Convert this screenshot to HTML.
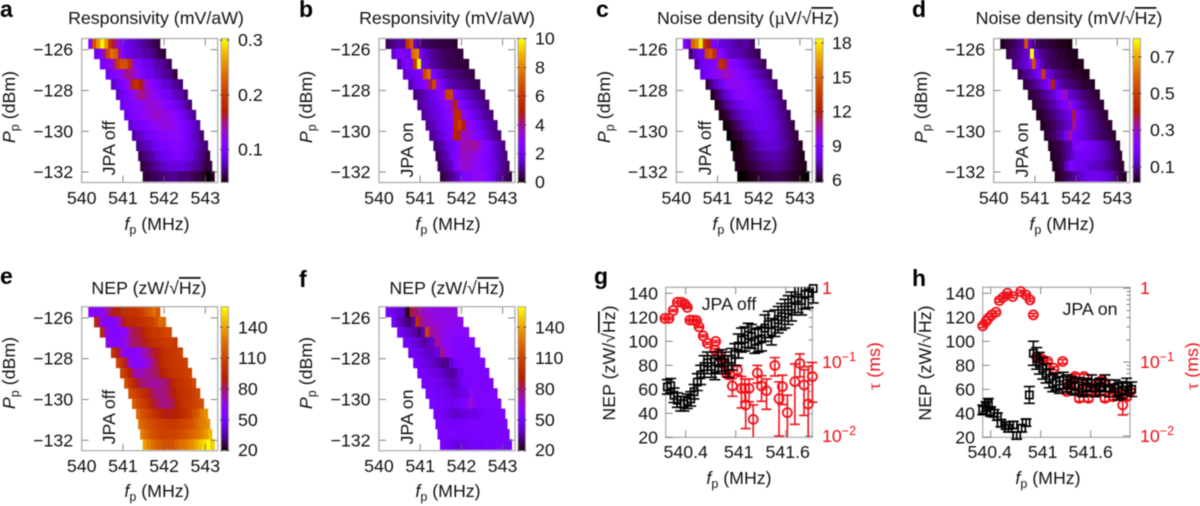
<!DOCTYPE html>
<html lang="en">
<head>
<meta charset="utf-8">
<title>Responsivity, noise density and NEP maps</title>
<style>
html,body{margin:0;padding:0;background:#fff;width:1200px;height:506px;overflow:hidden}
svg{display:block;font-family:"Liberation Sans",sans-serif;font-size:17.8px;fill:#111;filter:blur(.45px)}
.l{font-weight:bold;font-size:23px;fill:#000}
.m{text-anchor:middle}
.serif{font-family:"Liberation Serif",serif}
.red{fill:#f01018}
</style>
</head>
<body>
<svg id="chart" xmlns="http://www.w3.org/2000/svg" width="1200" height="506" viewBox="0 0 1200 506">
<g id="plots"></g>

<text class="l" x="0" y="17">a</text>
<text class="l" x="299" y="17">b</text>
<text class="l" x="596" y="17">c</text>
<text class="l" x="912" y="17">d</text>
<text class="l" x="0" y="284">e</text>
<text class="l" x="299" y="287">f</text>
<text class="l" x="594" y="284">g</text>
<text class="l" x="912" y="286">h</text>

<text class="m" x="156" y="24">Responsivity (mV/aW)</text>
<text class="m" x="447" y="24">Responsivity (mV/aW)</text>
<text class="m" x="748" y="24">Noise density (<tspan class="serif">µ</tspan>V/√<tspan text-decoration="overline">Hz</tspan>)</text>
<text class="m" x="1069" y="24">Noise density (mV/√<tspan text-decoration="overline">Hz</tspan>)</text>
<text class="m" x="149" y="294">NEP (zW/√<tspan text-decoration="overline">Hz</tspan>)</text>
<text class="m" x="447" y="294">NEP (zW/√<tspan text-decoration="overline">Hz</tspan>)</text>

<text class="m" x="157" y="230"><tspan font-style="italic">f</tspan><tspan dy="4" font-size="12.5">p</tspan><tspan dy="-4">&#160;(MHz)</tspan></text>
<text class="m" x="448" y="230"><tspan font-style="italic">f</tspan><tspan dy="4" font-size="12.5">p</tspan><tspan dy="-4">&#160;(MHz)</tspan></text>
<text class="m" x="745" y="230"><tspan font-style="italic">f</tspan><tspan dy="4" font-size="12.5">p</tspan><tspan dy="-4">&#160;(MHz)</tspan></text>
<text class="m" x="1062" y="230"><tspan font-style="italic">f</tspan><tspan dy="4" font-size="12.5">p</tspan><tspan dy="-4">&#160;(MHz)</tspan></text>
<text class="m" x="157" y="497"><tspan font-style="italic">f</tspan><tspan dy="4" font-size="12.5">p</tspan><tspan dy="-4">&#160;(MHz)</tspan></text>
<text class="m" x="448" y="497"><tspan font-style="italic">f</tspan><tspan dy="4" font-size="12.5">p</tspan><tspan dy="-4">&#160;(MHz)</tspan></text>
<text class="m" x="739" y="484"><tspan font-style="italic">f</tspan><tspan dy="4" font-size="12.5">p</tspan><tspan dy="-4">&#160;(MHz)</tspan></text>
<text class="m" x="1048" y="484"><tspan font-style="italic">f</tspan><tspan dy="4" font-size="12.5">p</tspan><tspan dy="-4">&#160;(MHz)</tspan></text>

<text class="m" transform="translate(15,107) rotate(-90)"><tspan font-style="italic">P</tspan><tspan dy="4" font-size="12.5">p</tspan><tspan dy="-4">&#160;(dBm)</tspan></text>
<text class="m" transform="translate(312,107) rotate(-90)"><tspan font-style="italic">P</tspan><tspan dy="4" font-size="12.5">p</tspan><tspan dy="-4">&#160;(dBm)</tspan></text>
<text class="m" transform="translate(610,107) rotate(-90)"><tspan font-style="italic">P</tspan><tspan dy="4" font-size="12.5">p</tspan><tspan dy="-4">&#160;(dBm)</tspan></text>
<text class="m" transform="translate(927,107) rotate(-90)"><tspan font-style="italic">P</tspan><tspan dy="4" font-size="12.5">p</tspan><tspan dy="-4">&#160;(dBm)</tspan></text>
<text class="m" transform="translate(15,373) rotate(-90)"><tspan font-style="italic">P</tspan><tspan dy="4" font-size="12.5">p</tspan><tspan dy="-4">&#160;(dBm)</tspan></text>
<text class="m" transform="translate(312,373) rotate(-90)"><tspan font-style="italic">P</tspan><tspan dy="4" font-size="12.5">p</tspan><tspan dy="-4">&#160;(dBm)</tspan></text>

<text class="m" transform="translate(115,148) rotate(-90)">JPA off</text>
<text class="m" transform="translate(413,150) rotate(-90)">JPA on</text>
<text class="m" transform="translate(711,148) rotate(-90)">JPA off</text>
<text class="m" transform="translate(1028,150) rotate(-90)">JPA on</text>
<text class="m" transform="translate(115,417) rotate(-90)">JPA off</text>
<text class="m" transform="translate(413,417) rotate(-90)">JPA on</text>
<text class="m" x="729" y="310">JPA off</text>
<text class="m" x="1090" y="315">JPA on</text>

<text class="m" transform="translate(615,363) rotate(-90)">NEP (zW/√<tspan text-decoration="overline">Hz</tspan>)</text>
<text class="m" transform="translate(931,363) rotate(-90)">NEP (zW/√<tspan text-decoration="overline">Hz</tspan>)</text>
<text class="m red" transform="translate(880,366) rotate(-90)"><tspan class="serif">τ</tspan> (ms)</text>
<text class="m red" transform="translate(1198,366) rotate(-90)"><tspan class="serif">τ</tspan> (ms)</text>
</svg>

<script>
/* ---------- shared heatmap axes ---------- */
const rowPower = [-125.7,-126.2,-126.7,-127.2,-127.7,-128.2,-128.7,-129.2,-129.7,-130.2,-130.7,-131.2,-131.7,-132.2];
const rowStartMHz = [540.16,540.30,540.44,540.58,540.71,540.83,540.93,541.03,541.13,541.22,541.32,541.37,541.42,541.48];
const xTickValues = [540,541,542,543];
const yTickValues = [-126,-128,-130,-132];

/* ---------- a: responsivity, JPA off ---------- */
const heatA = [
[.11,.22,.26,.30,.26,.19,.16,.13,.10,.09,.085,.08,.075,.07,.065,.06,.055,.05],
[.09,.10,.14,.21,.24,.23,.14,.10,.09,.085,.08,.08,.07,.07,.065,.06,.05,.05],
[.10,.10,.12,.14,.20,.22,.22,.19,.13,.11,.10,.09,.085,.08,.07,.07,.06,.055],
[.09,.10,.11,.12,.13,.15,.14,.13,.115,.10,.09,.09,.08,.075,.07,.065,.06,.05],
[.08,.09,.10,.11,.13,.18,.19,.17,.14,.12,.11,.10,.09,.08,.08,.07,.065,.06],
[.08,.09,.10,.11,.12,.14,.15,.14,.13,.12,.11,.10,.095,.09,.08,.075,.07,.06],
[.09,.10,.105,.11,.115,.12,.125,.13,.13,.125,.12,.11,.105,.095,.09,.08,.07,.06],
[.09,.10,.105,.11,.115,.12,.125,.13,.135,.13,.125,.12,.115,.105,.095,.085,.075,.065],
[.08,.09,.095,.10,.105,.11,.115,.12,.125,.125,.125,.12,.115,.11,.10,.09,.08,.07],
[.07,.075,.08,.09,.095,.10,.105,.11,.11,.115,.115,.115,.11,.10,.09,.08,.07,.06],
[.065,.07,.075,.08,.09,.095,.10,.10,.105,.11,.11,.105,.10,.09,.085,.075,.065,.06],
[.055,.06,.065,.07,.08,.085,.09,.095,.095,.10,.10,.095,.09,.085,.075,.065,.06,.05],
[.05,.055,.06,.065,.07,.075,.08,.085,.085,.085,.085,.08,.075,.07,.065,.06,.05,.05],
[.05,.05,.055,.055,.06,.06,.065,.065,.065,.06,.06,.06,.055,.05,.05,.045,.04,.045]];
const barTicksA = ['0.1','0.2','0.3'];

/* ---------- b: responsivity, JPA on ---------- */
const heatB = [
[.6,.8,1,1.2,1,6,7,1.5,1,.7,.6,.5,.5,.4,.4,.4,.4,.3],
[1.5,2.3,2.6,2.2,2,7.5,8,2,1.5,1.2,1,.8,.7,.6,.5,.5,.4,.4],
[1.2,2,2.5,2.2,6,10,2,1.5,1.2,1,.8,.7,.6,.5,.5,.4,.4,.3],
[1.5,1.8,2,2.2,2.5,6.5,7.5,2.5,2,1.5,1.2,1,.9,.8,.7,.6,.5,.4],
[1.2,1.6,2,2.5,3,4.5,6.5,3,2.2,1.6,1.3,1.1,1,.9,.8,.7,.6,.5],
[.8,1,1.2,1.5,1.8,2,2.5,3,6.3,6.5,2.5,2,1.6,1.4,1.2,1,.9,.7],
[1,1.2,1.4,1.6,1.8,2,2.4,3,3.5,5.2,3,2.4,2,1.6,1.4,1.2,1,.8],
[1,1.3,1.5,1.7,1.9,2.2,2.6,3,5.5,5.5,3.2,2.6,2.2,1.8,1.5,1.2,1,.8],
[1,1.2,1.5,1.8,2,2.3,2.6,5.5,6.2,5,3.2,2.8,2.4,2,1.6,1.3,1.1,.9],
[1,1.2,1.5,1.8,2.2,2.6,5.2,4.8,3.5,3.6,3.2,2.8,2.4,2,1.6,1.3,1,.8],
[.8,1,1.3,1.7,2,2.3,2.8,4,3.7,3.9,4,3.4,3,2.5,2,1.5,1.2,.9],
[.6,.9,1.2,1.6,2.2,2.6,3.5,3.7,3.4,3.3,3,2.8,2.5,2.2,1.8,1.4,1.1,.8],
[.6,.8,1.1,1.4,2.4,3.2,3.4,3.6,3.2,3,2.8,2.6,2.3,2,1.7,1.3,1,.7],
[.4,.6,.8,1.2,1.5,2.2,2.6,2.8,3,3,3,2.6,2.2,1.8,1.3,1,.7,.4]];
const barTicksB = ['0','2','4','6','8','10'];

/* ---------- c: noise density, JPA off ---------- */
const heatC = [
[9,8,15,16,18.2,13,12,9,8.5,8,7.8,7.6,7.4,7.2,7,7.2,7,6.6],
[6.8,7.5,8,8.3,14,14.5,13,9.5,9,8,7.6,7.4,7.4,7.2,7,6.8,6.6,6.4],
[7.2,8,8.4,8.6,9,9.5,13,12.5,9.8,9.3,8.8,8.4,8,7.6,7.3,7,6.8,6.5],
[8,8.5,8.8,9,9.5,10,10.5,10,9.5,9.3,9,8.6,8.2,7.8,7.5,7.2,7,6.6],
[6.3,7,7.5,8,8.5,9.5,9.5,9.6,9.6,9.4,9,8.7,8.3,8,7.6,7.3,7,6.7],
[6,6.5,7,7.6,8,8.6,9.2,9.5,9.4,9.2,9,8.7,8.4,8,7.7,7.4,7,6.7],
[6,6.3,6.8,7.2,7.6,8,8.3,8.6,8.8,8.8,8.7,8.5,8.2,8,7.7,7.4,7,6.6],
[6,6.2,6.5,7,7.3,7.6,7.9,8.1,8.3,8.4,8.4,8.3,8.1,7.8,7.5,7.2,6.9,6.5],
[5.9,6,6.3,6.6,7,7.4,7.7,8,8.3,8.4,8.4,8.2,8,7.7,7.4,7,6.7,6.4],
[5.8,6,6.2,6.4,6.8,7.1,7.4,7.6,7.9,8,8,7.9,7.7,7.4,7.1,6.8,6.5,6.3],
[5.8,5.9,6,6.3,6.6,6.9,7.2,7.5,7.7,7.8,7.8,7.7,7.5,7.2,6.9,6.6,6.3,6.1],
[6,6,6.1,6.3,6.5,6.7,6.9,7.1,7.2,7.3,7.3,7.2,7,6.8,6.6,6.4,6.2,6],
[6,6,6,6.2,6.3,6.5,6.7,6.8,6.9,7,7,6.9,6.8,6.6,6.4,6.2,6.1,6],
[5.8,5.8,5.9,6,6.1,6.2,6.3,6.4,6.4,6.5,6.5,6.4,6.3,6.2,6.1,6,5.9,5.8]];
const barTicksC = ['6','9','12','15','18'];

/* ---------- d: noise density, JPA on ---------- */
const heatD = [
[.03,.04,.05,.06,.08,.10,.55,.14,.08,.06,.05,.05,.04,.04,.03,.03,.03,.02],
[.05,.07,.08,.10,.12,.15,.80,.15,.10,.08,.07,.06,.05,.04,.04,.03,.03,.03],
[.08,.10,.12,.14,.20,.55,.20,.12,.08,.07,.06,.05,.05,.04,.04,.03,.03,.03],
[.05,.08,.10,.12,.15,.20,.50,.18,.12,.10,.08,.07,.06,.05,.04,.04,.03,.03],
[.05,.06,.08,.10,.13,.16,.22,.42,.15,.11,.09,.08,.07,.06,.05,.04,.04,.03],
[.04,.05,.06,.08,.10,.12,.14,.20,.24,.30,.14,.12,.10,.08,.07,.06,.05,.04],
[.04,.05,.06,.07,.09,.11,.14,.18,.20,.28,.18,.14,.11,.09,.07,.06,.05,.04],
[.03,.04,.05,.07,.08,.10,.12,.14,.17,.38,.20,.15,.12,.10,.08,.07,.05,.04],
[.03,.04,.05,.06,.08,.10,.12,.14,.34,.18,.15,.13,.11,.09,.08,.06,.05,.04],
[.04,.05,.07,.09,.12,.18,.32,.20,.16,.15,.13,.11,.09,.08,.07,.06,.05,.04],
[.03,.04,.05,.07,.09,.11,.20,.22,.22,.20,.18,.17,.15,.13,.11,.08,.06,.04],
[.03,.04,.05,.07,.10,.13,.17,.18,.18,.17,.16,.15,.14,.12,.10,.08,.06,.04],
[.03,.04,.06,.12,.20,.19,.17,.16,.15,.14,.13,.12,.11,.09,.08,.06,.05,.04],
[.03,.04,.05,.07,.09,.11,.13,.15,.16,.17,.17,.16,.15,.13,.11,.08,.05,.03]];
const barTicksD = ['0.1','0.3','0.5','0.7'];

/* ---------- e: NEP, JPA off ---------- */
const heatE = [
[60,58,58,62,70,82,88,92,96,100,100,102,104,108,114,120,126,118],
[95,75,55,55,58,60,72,88,96,96,96,100,102,104,108,114,124,124],
[96,70,60,55,55,60,62,75,84,84,88,96,100,104,104,108,112,112],
[65,58,58,60,62,70,80,80,84,86,92,96,100,102,104,106,108,106],
[102,92,72,60,58,58,60,65,72,78,84,88,94,100,102,104,106,108],
[110,102,85,68,60,58,60,65,72,80,86,96,100,102,104,104,106,108],
[110,102,92,75,72,72,75,78,80,84,90,96,100,102,104,106,108,110],
[114,104,96,85,80,78,75,75,75,78,80,86,96,100,102,104,106,112],
[114,110,106,100,96,86,80,78,78,80,84,90,96,100,102,104,108,112],
[120,112,108,104,96,86,82,78,78,80,84,92,100,104,106,108,112,116],
[124,116,112,108,102,96,92,88,88,90,92,96,100,106,114,120,130,136],
[126,120,116,114,110,108,106,104,104,106,108,110,112,116,122,128,132,136],
[130,124,118,114,111,108,108,110,110,112,114,116,120,124,128,132,138,145],
[140,132,126,121,118,116,114,116,120,125,128,132,136,142,148,154,160,150]];
const barTicksE = ['20','50','80','110','140'];

/* ---------- f: NEP, JPA on ---------- */
const heatF = [
[50,48,45,42,40,22,85,80,75,70,68,66,65,65,65,65,65,65],
[50,42,38,33,30,35,100,78,72,70,68,66,65,65,64,64,63,62],
[50,46,42,38,36,30,38,110,75,72,68,65,62,62,60,60,60,60],
[50,48,45,42,38,35,40,42,78,68,62,60,58,56,56,55,55,55],
[48,48,46,44,42,40,42,44,78,65,60,58,56,56,55,54,54,54],
[50,48,46,44,42,38,36,32,33,42,50,54,55,55,54,54,54,53],
[50,50,48,46,45,42,40,36,35,36,44,50,54,54,54,53,53,53],
[50,50,50,48,47,44,42,38,40,45,50,52,53,54,54,53,53,53],
[52,50,50,48,48,46,44,42,44,46,48,62,52,53,54,54,54,54],
[52,52,50,50,48,46,48,50,52,55,70,55,54,54,54,54,54,54],
[50,50,48,46,42,40,42,44,44,46,44,48,50,52,52,54,54,54],
[52,52,50,50,50,50,50,50,52,52,52,52,52,52,52,52,52,52],
[52,52,52,52,52,50,50,52,52,52,52,52,52,52,52,52,52,52],
[52,50,48,44,44,46,46,48,50,50,48,50,50,50,52,52,50,50]];
const barTicksF = ['20','50','80','110','140'];

/* ---------- g: NEP and tau traces, JPA off ---------- */
const gNepFreq = [540.18,540.22,540.26,540.30,540.34,540.38,540.42,540.46,540.50,540.54,540.58,540.62,540.66,540.71,540.75,540.79,540.83,540.87,540.91,540.95,540.99,541.03,541.07,541.11,541.15,541.19,541.23,541.27,541.31,541.35,541.39,541.43,541.47,541.51,541.55,541.59,541.63,541.67,541.71,541.75,541.79,541.83,541.87,541.93];
const gNep = [62,63,55,51,48,48,50,52,58,66,72,79,82,79,77,82,84,82,79,85,89,96,101,102,105,104,100,101,102,111,114,108,115,118,120.5,123,126,129,134,136,134,139,140,144];
const gNepErr = [6,6,6,6,6,6,6,6,6,7,8,9,9,9,9,9,9,9,9,9,9,10,10,10,10,10,10,10,10,11,11,11,11,11,11,12,12,12,12,12,12,12,12,12];
const gTauFreq = [540.15,540.20,540.25,540.30,540.35,540.39,540.42,540.45,540.49,540.53,540.56,540.61,540.66,540.76,540.75,540.80,540.85,540.89,540.93,540.96,541.02,541.07,541.12,541.11,541.16,541.21,541.26,541.31,541.37,541.47,541.52,541.56,541.62,541.71,541.77,541.82,541.87,541.92];
const gTau = [.39,.39,.50,.646,.646,.61,.55,.37,.37,.365,.30,.226,.18,.19,.146,.119,.096,.071,.067,.0475,.078,.044,.0263,.044,.044,.0168,.071,.0475,.041,.09,.032,.0466,.0207,.0544,.096,.049,.0271,.0637];
const gTauErr = [.012,.012,.015,.02,.02,.018,.015,.01,.01,.01,.008,.007,.006,.006,.006,.005,.006,.007,.008,.013,.012,.02,.0137,.015,.015,.0095,.019,.018,.018,.025,.022,.02,.015,.04,.033,.03,.06,.035];

/* ---------- h: NEP and tau traces, JPA on ---------- */
const hNepFreq = [540.304,540.344,540.372,540.40,540.44,540.48,540.524,540.584,540.612,540.672,540.712,540.772,540.824,540.864,540.912,540.952,540.984,541.024,541.064,541.104,541.144,541.184,541.224,541.272,541.312,541.372,541.412,541.452,541.504,541.552,541.612,541.652,541.712,541.772,541.824,541.892,541.932,541.972,542.032,542.092];
const hNep = [42.8,45.6,48.3,41.4,40,37.2,31.7,29.7,27.5,30.3,21.4,27.5,32.2,55.3,90,85.8,81.7,77.5,73.3,69.2,65,66.4,63.6,67.2,65,63.6,62.2,62.8,60.8,62.2,65,60.8,62.2,65,60.8,60.8,58,59.4,62.2,60];
const hNepErr = [4,4,4,4,3,3,3,3,3,3,3,3,3,7,10,9,9,9,8,8,7,7,7,7,7,7,7,7,7,7,7,7,7,7,7,7,7,7,7,6];
const hTauFreq = [540.304,540.344,540.372,540.412,540.464,540.504,540.552,540.60,540.664,540.76,540.824,540.872,540.912,540.952,540.992,541.032,541.084,541.16,541.264,541.312,541.372,541.412,541.464,541.52,541.572,541.632,541.712,541.772,541.832,541.912,541.984,542.072,541.34,541.488,541.668,541.736,541.868,541.952,542.032];
const hTau = [.309,.354,.392,.435,.473,.68,.755,.855,.77,.90,.81,.695,.435,.119,.113,.107,.102,.0825,.102,.04,.057,.0637,.0324,.0637,.0324,.0466,.0544,.0324,.0442,.0378,.0263,.04,.049,.042,.04,.057,.034,.0378,.034];
const hTauErr = [.015,.016,.018,.02,.02,.03,.03,.03,.03,.035,.03,.03,.02,.006,.006,.005,.005,.004,.006,.003,.004,.005,.003,.005,.003,.004,.004,.003,.004,.003,.007,.003,.003,.003,.003,.004,.003,.003,.003];

/* ---------- scatter-panel axis ticks ---------- */
const scatterXTicks = ['540.4','541','541.6'];
const scatterYTicks = ['20','40','60','80','100','120','140'];
const tauDecades = [1,0.1,0.01];
const tauMinor = [.9,.8,.7,.6,.5,.4,.3,.2,.09,.08,.07,.06,.05,.04,.03,.02];

/* ---------- helpers ---------- */
const NS = 'http://www.w3.org/2000/svg';
const root = document.getElementById('plots');
function mk(tag, attrs, parent) {
  const el = document.createElementNS(NS, tag);
  for (const k in attrs) el.setAttribute(k, attrs[k]);
  (parent || root).appendChild(el);
  return el;
}
function colormap(t) {
  t = Math.max(0, Math.min(1, t));
  const r = Math.sqrt(t), g = t * t * t, b = Math.max(0, Math.sin(2 * Math.PI * t));
  return 'rgb(' + Math.round(r * 255) + ',' + Math.round(g * 255) + ',' + Math.round(b * 255) + ')';
}
const FRAME = '#a8a8a8', TICK = '#666';

/* ---------- heatmap panels ---------- */
const plotW = 136, plotH = 144, pxPerMHz = 41.2, pxPerDb = 20.4, colStep = 0.0966, rowDb = 0.504;

function heatPanel(id, left, top, barLeft, barLabelX, heat, vMin, vMax, barTicks) {
  const g = mk('g', {});
  
  
  const xScale = f => left + (f - 540) * pxPerMHz;
  const yScale = p => top + 11.2 + (-126 - p) * pxPerDb;
  const colour = v => colormap((v - vMin) / (vMax - vMin));

  heat.forEach((row, r) => {
    row.forEach((v, c) => {
      const cell = mk('rect', {
        x: xScale(rowStartMHz[r] + c * colStep).toFixed(2),
        y: yScale(rowPower[r] + rowDb / 2).toFixed(2),
        width: (colStep * pxPerMHz + 0.4).toFixed(2),
        height: (rowDb * pxPerDb + 0.3).toFixed(2),
        fill: colour(v)
      }, g);
      
      
    });
  });

  xTickValues.forEach(t => {
    const x = xScale(t);
    const tickBottom = mk('line', {x1: x, x2: x, y1: top + plotH, y2: top + plotH - 7, stroke: TICK, 'stroke-width': .8}, g);
    
    
    const tickTop = mk('line', {x1: x, x2: x, y1: top, y2: top + 7, stroke: TICK, 'stroke-width': .8}, g);
    
    
    const label = mk('text', {x: x, y: top + plotH + 21.5, class: 'm'}, g);
    label.textContent = String(t);
    
    
  });
  yTickValues.forEach(t => {
    const y = yScale(t);
    const tickLeft = mk('line', {x1: left, x2: left + 7, y1: y, y2: y, stroke: TICK, 'stroke-width': .8}, g);
    
    
    const tickRight = mk('line', {x1: left + plotW, x2: left + plotW - 7, y1: y, y2: y, stroke: TICK, 'stroke-width': .8}, g);
    
    
    const label = mk('text', {x: left - 8.5, y: y + 6, 'text-anchor': 'end'}, g);
    label.textContent = '\u2212' + Math.abs(t);
    
    
  });
  const frame = mk('rect', {x: left, y: top, width: plotW, height: plotH, fill: 'none', stroke: FRAME, 'stroke-width': 1.2}, g);
  
  

  const barW = 7.5, steps = 72;
  const barScale = v => top + plotH - (v - vMin) / (vMax - vMin) * plotH;
  for (let i = 0; i < steps; i++) {
    const seg = mk('rect', {x: barLeft, y: (top + plotH - (i + 1) * plotH / steps).toFixed(2), width: barW, height: (plotH / steps + .4).toFixed(2), fill: colormap((i + .5) / steps)}, g);
    
    
  }
  const barFrame = mk('rect', {x: barLeft, y: top, width: barW, height: plotH, fill: 'none', stroke: FRAME, 'stroke-width': 1}, g);
  
  
  barTicks.forEach(s => {
    const y = barScale(Number(s));
    const tick = mk('line', {x1: barLeft - 1, x2: barLeft + barW + 2, y1: y, y2: y, stroke: '#333', 'stroke-width': .7, 'stroke-dasharray': '2.5 4 3'}, g);
    
    
    const label = mk('text', {x: barLabelX, y: Math.min(y + 6, top + plotH + 5.5)}, g);
    label.textContent = s;
    
    
  });
}

heatPanel('a', 81.7, 38.5, 221, 238, heatA, 0.04, 0.303, barTicksA);
heatPanel('b', 379, 38.5, 518, 535, heatB, 0, 10, barTicksB);
heatPanel('c', 676.3, 38.5, 815.5, 832, heatC, 5.8, 18.4, barTicksC);
heatPanel('d', 993.7, 38.5, 1133, 1150, heatD, 0.015, 0.8, barTicksD);
heatPanel('e', 81.7, 306.7, 221, 238, heatE, 20, 160, barTicksE);
heatPanel('f', 379, 306.7, 518, 535, heatF, 20, 160, barTicksF);

/* ---------- scatter panels ---------- */
function scatterPanel(id, left, right, fMin, labelRight, rightLabelX, xLabelOffsets, nepF, nep, nepE, tauF, tau, tauE) {
  const g = mk('g', {});
  
  
  const top = 287.3, bottom = 437.3;
  const xScale = f => left + (f - fMin) * 83.33;
  const yNep = v => bottom - (v - 20) * 1.2;
  const yTau = t => 436 - (Math.log10(t) + 2) * 73.9;
  const RED = '#f01018';

  const frame = mk('rect', {x: left, y: top, width: right - left, height: bottom - top, fill: 'none', stroke: FRAME, 'stroke-width': 1.2}, g);
  
  

  scatterXTicks.forEach((s, i) => {
    const x = xScale(Number(s));
    const tickB = mk('line', {x1: x, x2: x, y1: bottom, y2: bottom - 7, stroke: TICK, 'stroke-width': .8}, g);
    
    
    const tickT = mk('line', {x1: x, x2: x, y1: top, y2: top + 7, stroke: TICK, 'stroke-width': .8}, g);
    
    
    const label = mk('text', {x: x + xLabelOffsets[i], y: 458, class: 'm'}, g);
    label.textContent = s;
    
    
  });
  scatterYTicks.forEach(s => {
    const y = yNep(Number(s));
    const tick = mk('line', {x1: left, x2: left + 7, y1: y, y2: y, stroke: TICK, 'stroke-width': .8}, g);
    
    
    const label = mk('text', {x: labelRight, y: y + 6, 'text-anchor': 'end'}, g);
    label.textContent = s;
    
    
  });
  tauMinor.forEach(t => {
    const tick = mk('line', {x1: right, x2: right - 3.5, y1: yTau(t), y2: yTau(t), stroke: TICK, 'stroke-width': .8}, g);
    
    
  });
  tauDecades.forEach(t => {
    const y = yTau(t);
    const tick = mk('line', {x1: right, x2: right - 7, y1: y, y2: y, stroke: TICK, 'stroke-width': .8}, g);
    
    
    const label = mk('text', {x: rightLabelX, y: y + 6, class: 'red'}, g);
    
    
    if (t === 1) {
      label.textContent = '1';
    } else {
      const base = mk('tspan', {}, label);
      base.textContent = '10';
      const sup = mk('tspan', {dy: -7, 'font-size': 12.5}, label);
      sup.textContent = '\u2212' + Math.round(-Math.log10(t));
    }
  });

  tau.forEach((t, i) => {
    const x = xScale(tauF[i]), y = yTau(t);
    const yHi = Math.max(top, yTau(t + tauE[i]));
    const yLo = Math.min(bottom, yTau(Math.max(t - tauE[i], 1e-3)));
    const bar = mk('path', {d: 'M' + x + ' ' + yHi + 'V' + yLo + 'M' + (x - 5) + ' ' + yHi + 'H' + (x + 5) + (yLo < bottom ? 'M' + (x - 5) + ' ' + yLo + 'H' + (x + 5) : ''), stroke: RED, 'stroke-width': 1.6, fill: 'none'}, g);
    
    
    const pt = mk('circle', {cx: x, cy: y, r: 4.5, fill: 'none', stroke: RED, 'stroke-width': 1.8}, g);
    
    
  });
  nep.forEach((v, i) => {
    const x = xScale(nepF[i]), y = yNep(v);
    const rawHi = yNep(v + nepE[i]);
    const yHi = Math.max(top, rawHi), yLo = yNep(v - nepE[i]);
    const bar = mk('path', {d: 'M' + x + ' ' + yHi + 'V' + yLo + (rawHi >= top ? 'M' + (x - 5.5) + ' ' + yHi + 'H' + (x + 5.5) : '') + 'M' + (x - 5.5) + ' ' + yLo + 'H' + (x + 5.5), stroke: '#000', 'stroke-width': 1.6, fill: 'none'}, g);
    
    
    const pt = mk('rect', {x: x - 3.6, y: y - 3.6, width: 7.2, height: 7.2, fill: 'none', stroke: '#000', 'stroke-width': 1.7}, g);
    
    
  });
}

scatterPanel('g', 665.7, 812.3, 540.16, 658, 822, [0, 3, 2], gNepFreq, gNep, gNepErr, gTauFreq, gTau, gTauErr);
scatterPanel('h', 982.7, 1130, 540.304, 975, 1140, [-1, 2, 0], hNepFreq, hNep, hNepErr, hTauFreq, hTau, hTauErr);
</script>
</body>
</html>
